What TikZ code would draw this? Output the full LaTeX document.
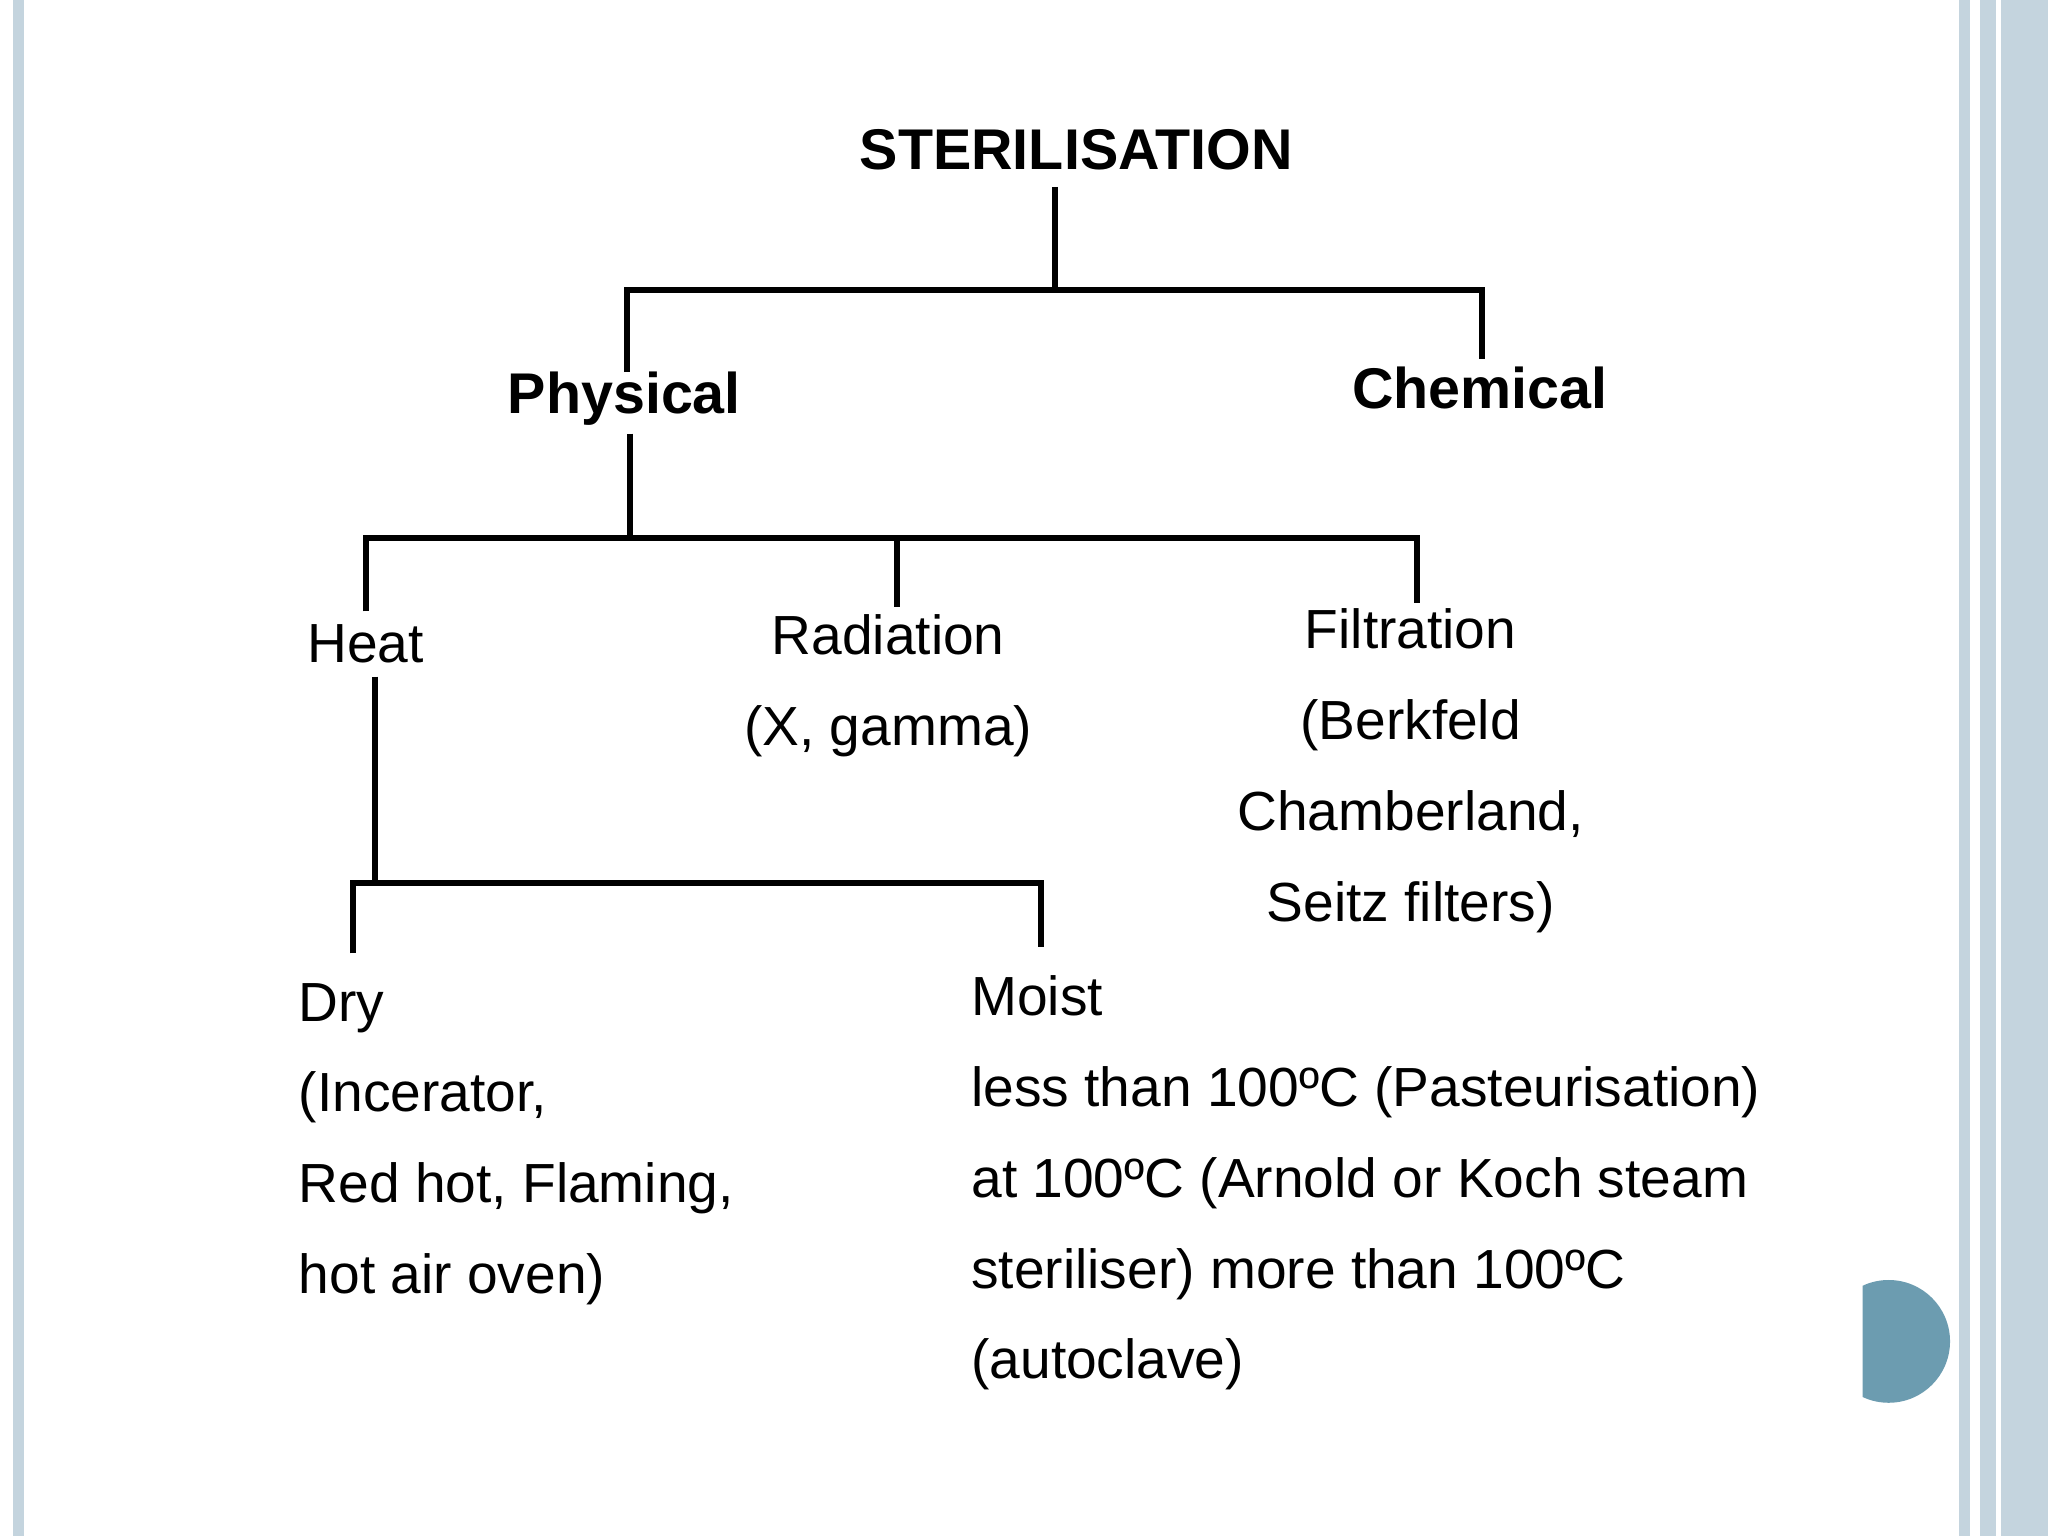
\documentclass[tikz,border=0pt]{standalone}
\usepackage{fontspec}
\setmainfont{Liberation Sans}
\definecolor{band}{RGB}{196,212,222}
\definecolor{dot}{RGB}{108,156,176}
\begin{document}
\begin{tikzpicture}[x=0.01cm,y=-0.01cm,
  ln/.style={line width=1.3pt},
  ttl/.style={font=\fontsize{12.5}{18}\selectfont\bfseries},
  txt/.style={font=\fontsize{12}{19.8}\selectfont, align=left, inner sep=0pt},
  txc/.style={font=\fontsize{12}{19.8}\selectfont, align=center, inner sep=0pt}]
\useasboundingbox (0,0) rectangle (1568,1176);
\fill[white] (0,0) rectangle (1568,1176);
% decorations
\fill[band] (10,0) rectangle (18,1176);
\fill[band] (1500,0) rectangle (1508,1176);
\fill[band] (1516,0) rectangle (1568,1176);
\draw[white,line width=1pt] (1530,0) -- (1530,1176);
\begin{scope}
\clip (1426,950) rectangle (1500,1100);
\fill[dot] (1446,1027) circle[radius=47];
\end{scope}
% nodes
\node[ttl] (st) at (824,115) {STERILISATION};
\node[ttl] (ph) at (478,305) {Physical};
\node[ttl] (ch) at (1133,297) {Chemical};
\node[txc] (he) at (280,493) {Heat};
\node[txc,anchor=north] (ra) at (680,470) {Radiation\\(X, gamma)};
\node[txc,anchor=north] (fi) at (1080,465) {Filtration\\(Berkfeld\\Chamberland,\\Seitz filters)};
\node[txt,anchor=north west] (dr) at (228,752) {Dry\\(Incerator,\\Red hot, Flaming,\\hot air oven)};
\node[txt,anchor=north west] (mo) at (743,746) {Moist\\less than 100ºC (Pasteurisation)\\at 100ºC (Arnold or Koch steam\\steriliser) more than 100ºC\\(autoclave)};
% connectors
\coordinate (j1) at (808,222);
\coordinate (j2) at (482,412);
\coordinate (j3) at (287,676);
\draw[ln] (st.south -| j1) -- (j1);
\draw[ln] (480,285) |- (j1) -| (1135,275);
\draw[ln] (482,332) -- (j2);
\draw[ln] (280,468) |- (j2) -| (1085,462);
\draw[ln] (687,412) -- (687,465);
\draw[ln] (287,518) -- (j3);
\draw[ln] (270,730) |- (j3) -| (797,725);
\end{tikzpicture}
\end{document}
